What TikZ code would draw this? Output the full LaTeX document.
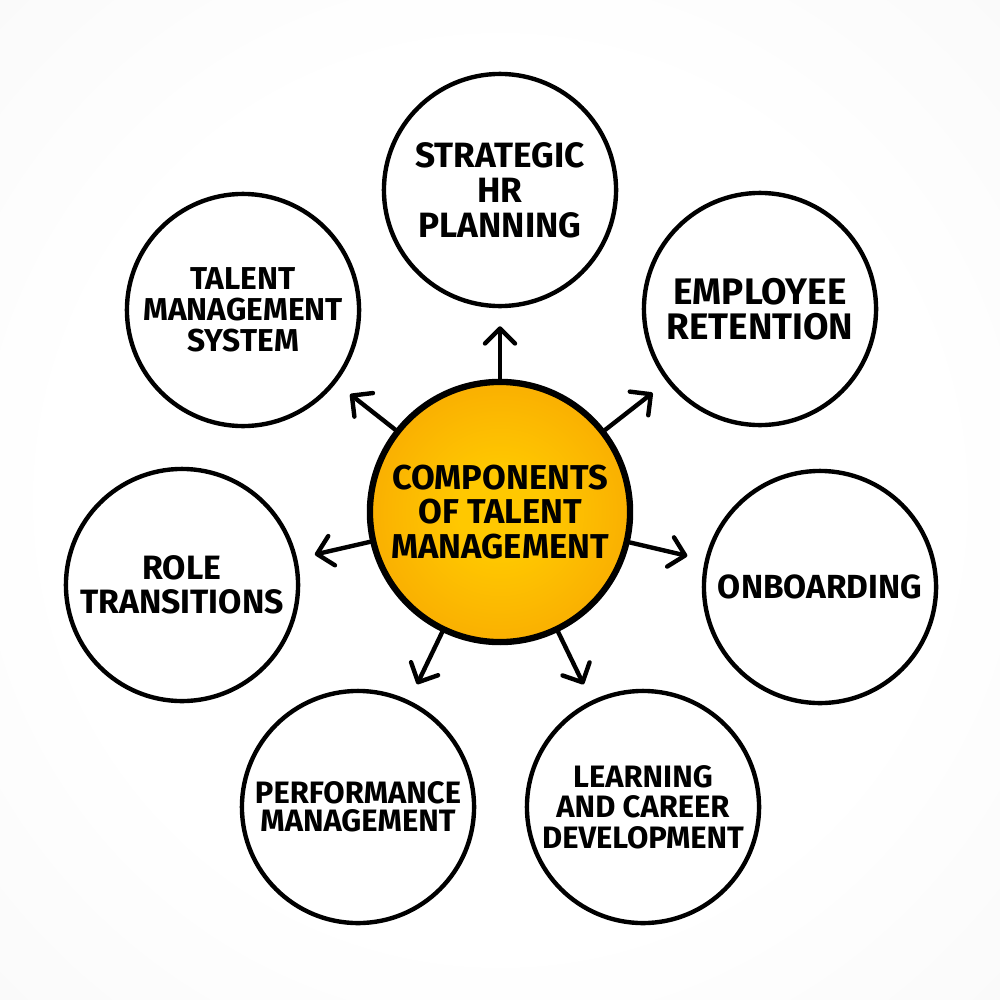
\documentclass[tikz,border=0pt]{standalone}
\usepackage{xcolor}
\usepackage{fontspec}
\setmainfont{Fira Sans}
\usepackage{tikz}
\usetikzlibrary{arrows.meta}
\definecolor{hubyellow}{RGB}{255,200,0}
\definecolor{huborange}{RGB}{242,140,4}
\pgfdeclareradialshading{hubglow}{\pgfpoint{0bp}{0bp}}{color(0bp)=(hubyellow); color(8bp)=(hubyellow); color(50bp)=(huborange)}
\pgfdeclareradialshading{paper}{\pgfpoint{0bp}{0bp}}{color(0bp)=(white); color(22bp)=(white); color(50bp)=(black!4); color(71bp)=(black!8)}

\begin{document}
\begin{tikzpicture}[x=0.01cm, y=-0.01cm,
  topic/.style={circle, draw, line width=1.25pt, fill=white, minimum size=2.32cm, inner sep=0pt, align=center},
  hub/.style={circle, draw, line width=1.8pt, shading=hubglow, minimum size=2.6cm, inner sep=0pt, align=center},
  spoke/.style={-{Straight Barb[length=1.5mm, width=3mm, round]}, line width=1.25pt, line cap=round, shorten >=1.8mm}]
% paper
\shade[shading=paper] (0,0) rectangle (1000,1000);

% centre
\node[hub, font=\bfseries\fontsize{9.8}{9.8}\selectfont] (hub) at (500,512) {COMPONENTS\\OF TALENT\\MANAGEMENT};

% ring of topics
\node[topic, font=\bfseries\fontsize{10}{10}\selectfont] (plan) at (500,190) {STRATEGIC\\HR\\PLANNING};
\node[topic, font=\bfseries\fontsize{10.5}{10}\selectfont] (keep) at (760,309) {EMPLOYEE\\RETENTION};
\node[topic, font=\bfseries\fontsize{9.5}{10}\selectfont] (board) at (820,587) {ONBOARDING};
\node[topic, font=\bfseries\fontsize{8.8}{8.7}\selectfont] (learn) at (643,807) {LEARNING\\AND CAREER\\DEVELOPMENT};
\node[topic, font=\bfseries\fontsize{8.8}{8}\selectfont] (perf) at (358,807) {PERFORMANCE\\MANAGEMENT};
\node[topic, font=\bfseries\fontsize{9.6}{9.5}\selectfont] (role) at (182,585) {ROLE\\TRANSITIONS};
\node[topic, font=\bfseries\fontsize{9}{8.8}\selectfont] (tms) at (243,310) {TALENT\\MANAGEMENT\\SYSTEM};

% spokes
\draw[spoke] (hub) -- (plan);
\draw[spoke] (hub) -- (keep);
\draw[spoke] (hub) -- (board);
\draw[spoke] (hub) -- (learn);
\draw[spoke] (hub) -- (perf);
\draw[spoke] (hub) -- (role);
\draw[spoke] (hub) -- (tms);
\end{tikzpicture}
\end{document}
